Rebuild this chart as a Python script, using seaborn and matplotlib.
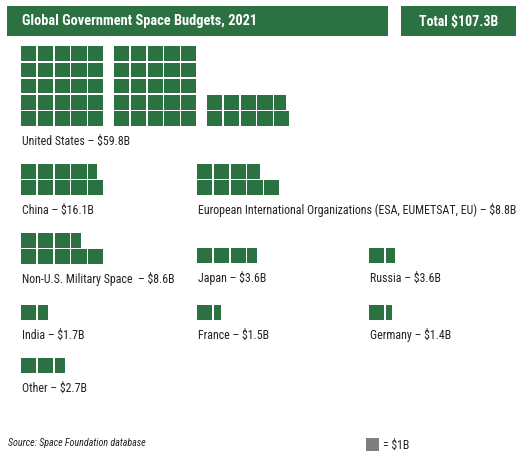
import matplotlib
matplotlib.use("Agg")
import matplotlib.pyplot as plt
from matplotlib import font_manager
import seaborn as sns

# budgets as printed in the labels (USD billions)
countries = ["United States", "China", "European International Organizations (ESA, EUMETSAT, EU)",
             "Non-U.S. Military Space ", "Japan", "Russia", "India", "France", "Germany", "Other"]
budgets = [59.8, 16.1, 8.8, 8.6, 3.6, 3.6, 1.7, 1.5, 1.4, 2.7]
# number of $1B squares drawn in the graphic
squares = [59.8, 9.6, 8.8, 8.6, 3.6, 1.6, 1.7, 1.5, 1.4, 2.7]
total = 107.3

# layout: left edge and bottom edge of each waffle (pixels)
anchor_x = [21, 21, 197, 21, 197, 369, 21, 197, 369, 21]
anchor_y = [126, 195, 195, 264, 263, 263, 320, 320, 320, 373]

GREEN = "#2b7142"
GREY = "#7f7f7f"
W, H = 525, 459

sns.set_theme(style="white")
fonts = font_manager.fontManager.ttflist


def has_regular(name, stretch=None):
    for f in fonts:
        if f.name != name or f.style != "normal":
            continue
        if f.weight not in (400, "normal", "regular", "book"):
            continue
        if stretch and f.stretch != stretch:
            continue
        return True
    return False


fam, stretch = "Roboto", "normal"
for cand in ["Roboto Condensed", "Open Sans Condensed", "Liberation Sans Narrow"]:
    if has_regular(cand):
        fam = cand
        break
else:
    if has_regular("DejaVu Sans", "condensed"):
        fam, stretch = "DejaVu Sans", "condensed"
    elif not has_regular("Roboto"):
        fam = "Lato"
plt.rcParams["font.family"] = [fam, "DejaVu Sans"]
plt.rcParams["font.stretch"] = stretch

fig = plt.figure(figsize=(W / 100, H / 100), dpi=100)
ax = fig.add_axes([0, 0, 1, 1])
ax.set_xlim(0, W)
ax.set_ylim(H, 0)
ax.axis("off")
renderer = fig.canvas.get_renderer()


def fit(txt, target):
    # shrink/grow a text so its width matches the reference width in pixels
    w = txt.get_window_extent(renderer).width
    txt.set_fontsize(txt.get_fontsize() * target / w)
    return txt.get_fontsize()


px, py = 16.8, 16.3     # cell pitch
sw, sh = 15.2, 14.6     # square size
block_gap = 9


def waffle(value, x0, y0):
    full = int(value)
    frac = value - full
    n = full + (1 if frac > 0.05 else 0)
    lefts, tops, widths = [], [], []
    for i in range(n):
        block, k = divmod(i, 25)
        row, col = divmod(k, 5)
        w = sw * frac if (i == full and frac > 0) else sw
        lefts.append(x0 + block * (5 * px + block_gap) + col * px)
        tops.append(y0 - row * py - sh)
        widths.append(w)
    ax.bar(lefts, [sh] * n, width=widths, bottom=tops, align="edge",
           color=GREEN, linewidth=0)


# label font size fitted on the longest label (318 px wide in the reference)
probe = ax.text(0, 0, f"{countries[2]} \u2013 ${budgets[2]}B", fontsize=8.6)
label_fs = fit(probe, 318)
probe.remove()

for name, b, s, x0, y0 in zip(countries, budgets, squares, anchor_x, anchor_y):
    waffle(s, x0, y0)
    ax.text(x0 + 1, y0 + 15, f"{name} \u2013 ${b}B", fontsize=label_fs,
            color="#222222", va="center", ha="left")

# header bars
ax.bar([7], [30], width=[381], bottom=[6], align="edge", color=GREEN, linewidth=0)
ax.bar([401], [30], width=[115], bottom=[6], align="edge", color=GREEN, linewidth=0)
t1 = ax.text(22, 21.5, "Global Government Space Budgets, 2021", color="white",
             fontsize=10.5, fontweight="bold", va="center", ha="left")
fit(t1, 235)
t2 = ax.text(458.5, 21.5, f"Total ${total}B", color="white", fontsize=10.5,
             fontweight="bold", va="center", ha="center")
fit(t2, 79)

# source and key
t3 = ax.text(8, 443, "Source: Space Foundation database", fontsize=6.3,
             style="italic", color="#222222", va="center", ha="left")
fit(t3, 139)
ax.bar([366], [13], width=[13], bottom=[438], align="edge", color=GREY, linewidth=0)
ax.text(383, 445, "= $1B", fontsize=label_fs, color="#222222",
        va="center", ha="left")

fig.savefig("out.png", dpi=100)
